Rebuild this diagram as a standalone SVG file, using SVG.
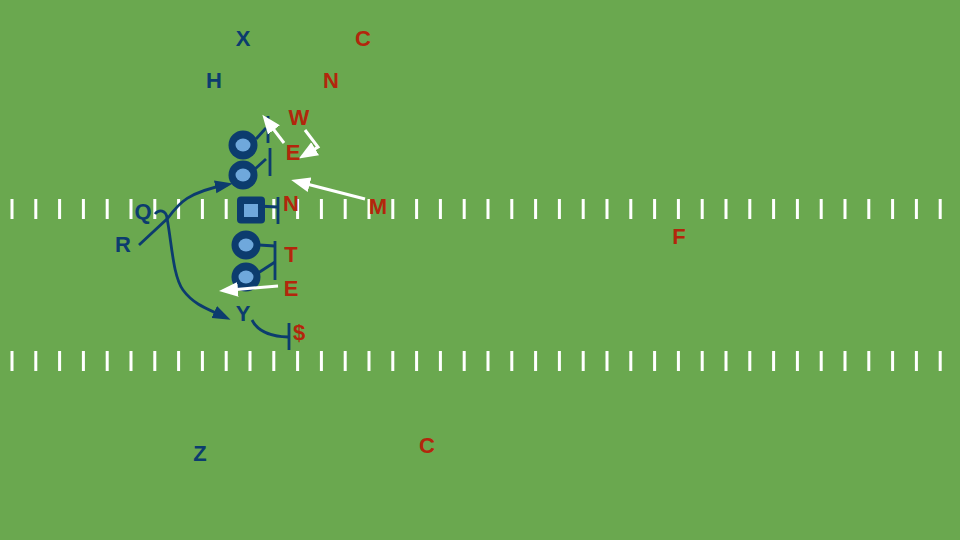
<svg xmlns="http://www.w3.org/2000/svg" width="960" height="540" viewBox="0 0 960 540">
<style>
.bg{fill:#6aa84f}
.hash{stroke:#ffffff;stroke-width:3;fill:none}
.off{fill:#0c3c6e;font-family:"Liberation Sans",Arial,sans-serif;font-weight:bold;font-size:22px;text-anchor:middle}
.def{fill:#b3260c;font-family:"Liberation Sans",Arial,sans-serif;font-weight:bold;font-size:22px;text-anchor:middle}
.ol{fill:#0c3c6e}
.olin{fill:#6fa8dc}
.bl{stroke:#0c3c6e;stroke-width:2.8;fill:none;stroke-linecap:butt}
.wl{stroke:#ffffff;stroke-width:3;fill:none}
</style>
<defs>
<marker id="wa" markerUnits="userSpaceOnUse" markerWidth="20" markerHeight="16" refX="13" refY="8" orient="auto">
<path d="M0,0.5 L19,8 L0,15.5 z" fill="#ffffff"/>
</marker>
<marker id="ba" markerUnits="userSpaceOnUse" markerWidth="19" markerHeight="14" refX="13" refY="7" orient="auto">
<path d="M0,0.5 L18,7 L0,13.5 z" fill="#0c3c6e"/>
</marker>
</defs>
<rect class="bg" x="0" y="0" width="960" height="540"/>
<g id="hashmarks">
<path class="hash" d="M12,199V219M35.8,199V219M59.6,199V219M83.4,199V219M107.2,199V219M131,199V219M154.8,199V219M178.6,199V219M202.4,199V219M226.2,199V219M250,199V219M273.8,199V219M297.6,199V219M321.4,199V219M345.2,199V219M369,199V219M392.8,199V219M416.6,199V219M440.4,199V219M464.2,199V219M488,199V219M511.8,199V219M535.6,199V219M559.4,199V219M583.2,199V219M607,199V219M630.8,199V219M654.6,199V219M678.4,199V219M702.2,199V219M726,199V219M749.8,199V219M773.6,199V219M797.4,199V219M821.2,199V219M845,199V219M868.8,199V219M892.6,199V219M916.4,199V219M940.2,199V219"/>
<path class="hash" d="M12,351V371M35.8,351V371M59.6,351V371M83.4,351V371M107.2,351V371M131,351V371M154.8,351V371M178.6,351V371M202.4,351V371M226.2,351V371M250,351V371M273.8,351V371M297.6,351V371M321.4,351V371M345.2,351V371M369,351V371M392.8,351V371M416.6,351V371M440.4,351V371M464.2,351V371M488,351V371M511.8,351V371M535.6,351V371M559.4,351V371M583.2,351V371M607,351V371M630.8,351V371M654.6,351V371M678.4,351V371M702.2,351V371M726,351V371M749.8,351V371M773.6,351V371M797.4,351V371M821.2,351V371M845,351V371M868.8,351V371M892.6,351V371M916.4,351V371M940.2,351V371"/>
</g>
<g id="lineman1"><circle class="ol" cx="243" cy="145" r="14.5"/><ellipse class="olin" cx="243" cy="145" rx="7.5" ry="6.5"/></g>
<g id="lineman2"><circle class="ol" cx="243" cy="175" r="14.5"/><ellipse class="olin" cx="243" cy="175" rx="7.5" ry="6.5"/></g>
<g id="center"><rect class="ol" x="237" y="196.5" width="28" height="27" rx="4"/><rect class="olin" x="244" y="204" width="14" height="13"/></g>
<g id="lineman4"><circle class="ol" cx="246" cy="245" r="14.5"/><ellipse class="olin" cx="246" cy="245" rx="7.5" ry="6.5"/></g>
<g id="lineman5"><circle class="ol" cx="246" cy="277" r="14.5"/><ellipse class="olin" cx="246" cy="277" rx="7.5" ry="6.5"/></g>
<g id="connectors">
<path class="bl" d="M256,139 L266,128"/>
<path class="bl" d="M268,116 V143"/>
<path class="bl" d="M255,169 L266,159"/>
<path class="bl" d="M270,148 V176"/>
<path class="bl" d="M258,206 L277,207"/>
<path class="bl" d="M278,197 V224"/>
<path class="bl" d="M259,245 L275,246"/>
<path class="bl" d="M258,273 L275,262"/>
<path class="bl" d="M275,241 V280"/>
<path class="bl" d="M252,320 Q260,336 288,337"/>
<path class="bl" d="M289,323 V350"/>
<path class="bl" d="M155,214 C159,209 166,210 167,218 C172,245 173,276 183,290 C194,305 208,309 226,317.5" marker-end="url(#ba)"/>
<path class="bl" d="M139,245 L168,218 C179,203 188,192 228,184.5" marker-end="url(#ba)"/>
<path class="wl" d="M284,143 L266,119.5" marker-end="url(#wa)"/>
<path class="wl" d="M305,130 L318,147 L304,155.5" marker-end="url(#wa)"/>
<path class="wl" d="M365,199 L297,181.5" marker-end="url(#wa)"/>
<path class="wl" d="M278,286 L225,290.5" marker-end="url(#wa)"/>
</g>
<g id="X"><text class="off" x="243" y="46">X</text></g>
<g id="H"><text class="off" x="214" y="88">H</text></g>
<g id="Q"><text class="off" x="143" y="219">Q</text></g>
<g id="R"><text class="off" x="123" y="252">R</text></g>
<g id="Y"><text class="off" x="243" y="321">Y</text></g>
<g id="Z"><text class="off" x="200" y="461">Z</text></g>
<g id="C-top"><text class="def" x="363" y="46">C</text></g>
<g id="N-top"><text class="def" x="331" y="88">N</text></g>
<g id="W"><text class="def" x="299" y="125">W</text></g>
<g id="E-top"><text class="def" x="293" y="160">E</text></g>
<g id="N-mid"><text class="def" x="291" y="211">N</text></g>
<g id="M"><text class="def" x="378" y="214">M</text></g>
<g id="F"><text class="def" x="679" y="244">F</text></g>
<g id="T"><text class="def" x="291" y="262">T</text></g>
<g id="E-bottom"><text class="def" x="291" y="296">E</text></g>
<g id="dollar"><text class="def" x="299" y="340">$</text></g>
<g id="C-bottom"><text class="def" x="427" y="453">C</text></g>
</svg>
